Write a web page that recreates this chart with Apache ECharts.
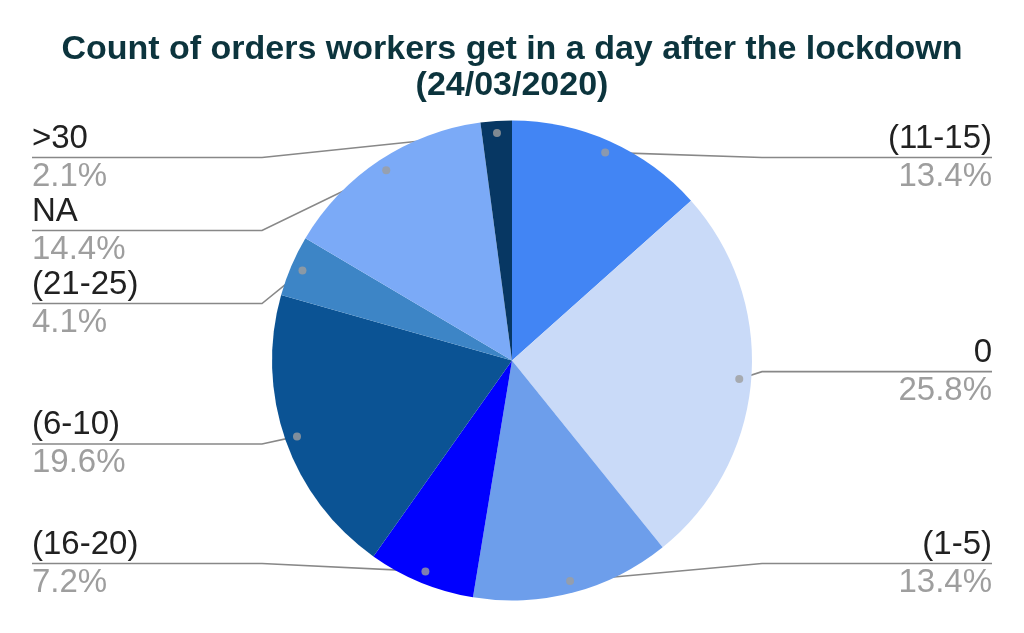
<!DOCTYPE html>
<html>
<head>
<meta charset="utf-8">
<script src="https://cdn.jsdelivr.net/npm/echarts@6/dist/echarts.min.js"></script>
<style>
html,body{margin:0;padding:0;background:#fff;}
#main{width:1024px;height:633px;}
</style>
</head>
<body>
<div id="main"></div>
<script>
var titleText = 'Count of orders workers get in a day after the lockdown\n(24/03/2020)';
var categories = ['(11-15)', '0', '(1-5)', '(16-20)', '(6-10)', '(21-25)', 'NA', '>30'];
var percents = [13.4, 25.8, 13.4, 7.2, 19.6, 4.1, 14.4, 2.1];
var colors = ['#4285f4', '#c9daf8', '#6d9eeb', '#0000ff', '#0b5394', '#3d85c6', '#7baaf7', '#073763'];

var W = 1024, H = 633;
var boxTop = 121, boxBottom = 33;
var R = 240;
var CX = W / 2, CY = boxTop + (H - boxTop - boxBottom) / 2;
var DOT = 0.95;

var chart = echarts.init(document.getElementById('main'), null, {renderer: 'canvas'});

var pieData = categories.map(function (c, i) {
  return {name: c, value: percents[i], itemStyle: {color: colors[i]}};
});

// dots placed at the middle angle of each slice, derived from the data
var total = percents.reduce(function (a, b) { return a + b; }, 0);
var acc = 0;
var dotData = percents.map(function (v) {
  var mid = acc + v / 2;
  acc += v;
  return [DOT, mid];
});

var labelFont = 'Liberation Sans, Arial, sans-serif';

chart.setOption({
  animation: false,
  backgroundColor: '#ffffff',
  title: {
    text: titleText,
    left: 'center',
    top: 27,
    textStyle: {
      fontFamily: 'Liberation Sans, Arial, sans-serif',
      fontWeight: 'bold',
      fontSize: 34,
      lineHeight: 36,
      color: '#0c343d'
    }
  },
  polar: {center: [CX, CY], radius: R},
  angleAxis: {type: 'value', min: 0, max: total, startAngle: 90, clockwise: true, show: false},
  radiusAxis: {type: 'value', min: 0, max: 1, show: false},
  series: [{
    type: 'pie',
    top: boxTop,
    bottom: boxBottom,
    left: 0,
    right: 0,
    center: ['50%', '50%'],
    radius: R,
    startAngle: 90,
    clockwise: true,
    data: pieData,
    avoidLabelOverlap: true,
    label: {
      show: true,
      position: 'outside',
      alignTo: 'edge',
      edgeDistance: 32,
      formatter: function (p) {
        return '{n|' + p.name + '}\n{p|' + p.value.toFixed(1) + '%}';
      },
      rich: {
        n: {fontFamily: labelFont, fontSize: 33, lineHeight: 38, color: '#212121'},
        p: {fontFamily: labelFont, fontSize: 33, lineHeight: 38, color: '#9e9e9e'}
      }
    },
    labelLine: {
      show: true,
      length: 0,
      length2: 10,
      smooth: false,
      lineStyle: {color: '#888888', width: 1.6}
    },
    labelLayout: function (params) {
      var pts = params.labelLinePoints;
      var rect = params.labelRect;
      if (!pts || !rect) return {};
      var p0 = pts[0];
      var sx = CX + (p0[0] - CX) * DOT;
      var sy = CY + (p0[1] - CY) * DOT;
      var ly = rect.y + rect.height / 2;
      var left = rect.x + rect.width / 2 < CX;
      var bendX = left ? CX - R - 10 : CX + R + 10;
      var endX = left ? rect.x : rect.x + rect.width;
      return {labelLinePoints: [[sx, sy], [bendX, ly], [endX, ly]]};
    },
    emphasis: {disabled: true}
  }, {
    type: 'scatter',
    coordinateSystem: 'polar',
    data: dotData,
    symbol: 'circle',
    symbolSize: 8,
    itemStyle: {color: '#9e9e9e'},
    silent: true,
    z: 5
  }]
});
</script>
</body>
</html>
